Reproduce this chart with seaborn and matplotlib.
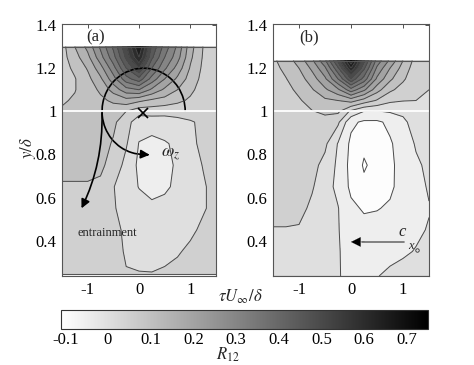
import numpy as np
import matplotlib
matplotlib.use("Agg")
import matplotlib.pyplot as plt
import seaborn as sns
from matplotlib.patches import Arc
from matplotlib.colors import Normalize

# grid of the two correlation maps
x_grid = [-1.5, -1.25, -1.0, -0.75, -0.5, -0.25, 0.0, 0.25, 0.5, 0.75, 1.0, 1.25, 1.5]

y_a = [1.3, 1.25, 1.2, 1.15, 1.1, 1.05, 1.0, 0.95, 0.85, 0.75, 0.65, 0.55, 0.45, 0.35, 0.245]
r12_a_cols = [
    [0.03, 0.03, 0.03, 0.035, 0.04, 0.045, 0.055, 0.065, 0.07, 0.065, 0.045, 0.03, 0.03, 0.03, 0.03],
    [0.1, 0.08, 0.06, 0.047, 0.048, 0.055, 0.06, 0.07, 0.07, 0.065, 0.045, 0.03, 0.03, 0.03, 0.03],
    [0.165, 0.135, 0.105, 0.085, 0.072, 0.065, 0.065, 0.07, 0.07, 0.065, 0.045, 0.03, 0.03, 0.03, 0.03],
    [0.26, 0.23, 0.18, 0.14, 0.11, 0.088, 0.075, 0.08, 0.07, 0.06, 0.04, 0.03, 0.03, 0.03, 0.03],
    [0.36, 0.33, 0.28, 0.23, 0.17, 0.11, 0.07, 0.06, 0.045, 0.03, 0.002, 0.005, 0.015, 0.02, 0.025],
    [0.49, 0.46, 0.4, 0.33, 0.23, 0.13, 0.05, 0.02, 0.005, -0.015, -0.025, -0.02, -0.01, -0.006, 0.003],
    [0.65, 0.6, 0.5, 0.38, 0.25, 0.11, 0.02, -0.03, -0.052, -0.06, -0.052, -0.03, -0.025, -0.02, 0.003],
    [0.44, 0.41, 0.35, 0.28, 0.19, 0.09, 0.02, -0.025, -0.065, -0.075, -0.065, -0.04, -0.03, -0.02, 0.002],
    [0.33, 0.3, 0.26, 0.2, 0.14, 0.08, 0.015, -0.02, -0.055, -0.06, -0.058, -0.035, -0.025, -0.012, 0.006],
    [0.24, 0.22, 0.18, 0.14, 0.1, 0.06, 0.02, -0.015, -0.04, -0.045, -0.04, -0.03, -0.02, -0.005, 0.015],
    [0.12, 0.11, 0.095, 0.078, 0.06, 0.043, 0.025, -0.005, -0.01, -0.02, -0.025, -0.025, -0.01, 0.01, 0.025],
    [0.049, 0.045, 0.04, 0.035, 0.03, 0.025, 0.02, 0.01, 0.01, 0.002, -0.005, -0.005, 0.01, 0.025, 0.03],
    [0.03, 0.03, 0.03, 0.03, 0.03, 0.025, 0.02, 0.02, 0.025, 0.02, 0.015, 0.015, 0.025, 0.03, 0.035],
]

y_b = [1.235, 1.2, 1.15, 1.1, 1.05, 1.0, 0.95, 0.85, 0.75, 0.65, 0.55, 0.45, 0.35, 0.236]
r12_b_cols = [
    [0.04, 0.035, 0.03, 0.028, 0.025, 0.022, 0.02, 0.018, 0.016, 0.014, 0.012, -0.002, -0.015, -0.015],
    [0.075, 0.062, 0.048, 0.037, 0.031, 0.03, 0.028, 0.025, 0.022, 0.018, 0.012, -0.002, -0.015, -0.015],
    [0.12, 0.1, 0.078, 0.06, 0.045, 0.037, 0.035, 0.03, 0.025, 0.02, 0.015, -0.005, -0.015, -0.015],
    [0.19, 0.16, 0.125, 0.095, 0.068, 0.048, 0.04, 0.03, 0.015, 0.005, -0.01, -0.02, -0.02, -0.02],
    [0.29, 0.24, 0.19, 0.14, 0.09, 0.058, 0.035, 0.01, -0.015, -0.03, -0.03, -0.03, -0.03, -0.03],
    [0.46, 0.39, 0.3, 0.19, 0.1, 0.06, 0.01, -0.053, -0.06, -0.062, -0.048, -0.047, -0.045, -0.045],
    [0.69, 0.6, 0.44, 0.28, 0.12, -0.01, -0.09, -0.11, -0.115, -0.11, -0.09, -0.08, -0.075, -0.07],
    [0.46, 0.41, 0.33, 0.21, 0.08, -0.05, -0.108, -0.14, -0.155, -0.14, -0.105, -0.085, -0.075, -0.065],
    [0.28, 0.24, 0.19, 0.12, 0.045, -0.052, -0.108, -0.13, -0.135, -0.13, -0.102, -0.085, -0.075, -0.052],
    [0.19, 0.15, 0.11, 0.06, 0.01, -0.045, -0.09, -0.105, -0.108, -0.107, -0.095, -0.08, -0.065, -0.04],
    [0.1, 0.08, 0.058, 0.03, 0.002, -0.04, -0.06, -0.08, -0.085, -0.085, -0.08, -0.07, -0.058, -0.03],
    [0.03, 0.022, 0.015, 0.008, 0.0, -0.015, -0.03, -0.045, -0.058, -0.07, -0.07, -0.06, -0.047, -0.025],
    [0.015, 0.008, 0.005, 0.0, -0.005, -0.01, -0.02, -0.03, -0.04, -0.044, -0.053, -0.046, -0.03, -0.02],
]

levels = np.round(np.arange(-0.15, 0.7001, 0.05), 2)
cbar_ticks = [-0.1, 0, 0.1, 0.2, 0.3, 0.4, 0.5, 0.6, 0.7]
cbar_labels = ["-0.1", "0", "0.1", "0.2", "0.3", "0.4", "0.5", "0.6", "0.7"]
y_ticks = [0.4, 0.6, 0.8, 1.0, 1.2, 1.4]
y_labels = ["0.4", "0.6", "0.8", "1", "1.2", "1.4"]
x_ticks = [-1, 0, 1]
x_labels = ["-1", "0", "1"]

sns.set_theme(style="white")
plt.rcParams["font.family"] = ["Liberation Serif", "DejaVu Serif"]
plt.rcParams["mathtext.fontset"] = "stix"
plt.rcParams["axes.unicode_minus"] = False

cmap = sns.color_palette("gray_r", as_cmap=True)
norm = Normalize(vmin=-0.11, vmax=0.75)
# each band takes the colour of its upper level
fill_colors = [cmap(norm(v)) for v in levels[1:]]

W, H = 474, 365
fig = plt.figure(figsize=(W / 100, H / 100), dpi=100)
ax_a = fig.add_axes([62 / W, 1 - 276 / H, 154 / W, 252 / H])
ax_b = fig.add_axes([273 / W, 1 - 276 / H, 156 / W, 252 / H])


def draw_map(ax, y, cols):
    z = np.array(cols).T[::-1]
    yy = np.array(y)[::-1]
    ax.contourf(x_grid, yy, z, levels=levels, colors=fill_colors)
    ax.contour(x_grid, yy, z, levels=levels, colors="#4a4a4a", linewidths=0.7,
               linestyles="solid")
    ax.plot([-1.5, 1.5], [yy[-1], yy[-1]], color="#555555", lw=0.8)
    ax.plot([-1.5, 1.5], [yy[0], yy[0]], color="#555555", lw=0.8)
    ax.axhline(1.0, color="white", lw=1.3)
    ax.set_xlim(-1.5, 1.5)
    ax.set_ylim(0.236, 1.405)
    ax.set_xticks(x_ticks)
    ax.set_xticklabels(x_labels)
    ax.set_yticks(y_ticks)
    ax.set_yticklabels(y_labels)
    ax.tick_params(direction="in", length=3, width=0.6, labelsize=12,
                   top=True, right=True, colors="#333333", labelcolor="black", pad=4)
    for s in ax.spines.values():
        s.set_color("#555555")
        s.set_linewidth(0.8)


draw_map(ax_a, y_a, r12_a_cols)
draw_map(ax_b, y_b, r12_b_cols)

# panel (a) annotations
ax_a.add_patch(Arc((0.09, 1.0), 1.62, 0.4, theta1=0, theta2=272, color="black", lw=1.2))
ax_a.annotate("", xy=(0.26, 0.797), xytext=(0.1, 0.8),
              arrowprops=dict(arrowstyle="-|>", color="black", lw=1.2, mutation_scale=13))
ax_a.annotate("", xy=(-1.12, 0.55), xytext=(-0.72, 0.99),
              arrowprops=dict(arrowstyle="-|>", color="black", lw=1.2, mutation_scale=13,
                              connectionstyle="arc3,rad=-0.12", shrinkA=0, shrinkB=0))
ax_a.plot(0.08, 0.99, marker="x", color="black", ms=7, mew=1.2)
ax_a.text(0.42, 0.8, r"$\omega_z$", fontsize=13, va="center")
ax_a.text(-0.62, 0.435, "entrainment", fontsize=9, ha="center", va="center")
ax_a.text(-0.85, 1.345, "(a)", fontsize=12, ha="center", va="center")

# panel (b) annotations
ax_b.plot([0.22, 1.02], [0.394, 0.394], color="#6e6e6e", lw=1.2)
ax_b.annotate("", xy=(0.0, 0.394), xytext=(0.26, 0.394),
              arrowprops=dict(arrowstyle="-|>", color="black", lw=0.1, mutation_scale=17,
                              shrinkA=0, shrinkB=0))
ax_b.text(0.99, 0.44, "c", fontsize=12, style="italic", va="center", ha="center")
ax_b.text(1.16, 0.375, "x", fontsize=9, style="italic", va="center", ha="center")
ax_b.plot(1.27, 0.355, marker="o", ms=2.5, mfc="none", mec="#333333", mew=0.6)
ax_b.text(-0.8, 1.345, "(b)", fontsize=12, ha="center", va="center")

# shared axis labels
fig.text(240 / W, 1 - 297 / H, r"$\tau U_\infty/\delta$", fontsize=12, ha="center", va="center")
fig.text(28 / W, 1 - 148 / H, r"$y/\delta$", fontsize=12, ha="center", va="center", rotation=90)

# colour bar
cax = fig.add_axes([61 / W, 1 - 329 / H, 367 / W, 19 / H])
sm = plt.cm.ScalarMappable(norm=norm, cmap=cmap)
cb = fig.colorbar(sm, cax=cax, orientation="horizontal", ticks=cbar_ticks)
cb.set_ticklabels(cbar_labels)
cb.outline.set_linewidth(0.8)
cb.outline.set_edgecolor("#333333")
cax.tick_params(direction="in", length=3, width=0.6, labelsize=12, top=True,
                colors="#333333", labelcolor="black", pad=2)
fig.text(228 / W, 1 - 355 / H, r"$R_{12}$", fontsize=12, ha="center", va="center")

fig.savefig("out.png", dpi=100)
